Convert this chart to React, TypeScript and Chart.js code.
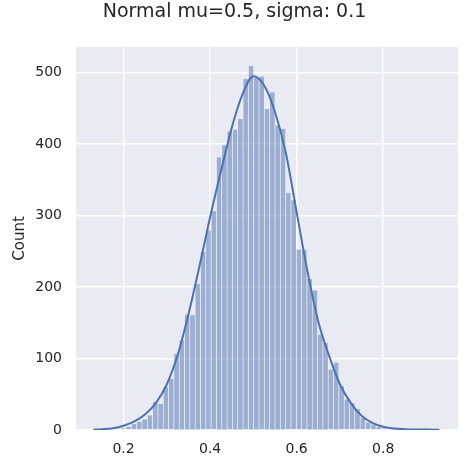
import { FC, ReactElement, useEffect, useRef } from 'react';
import { Chart, registerables } from 'chart.js';

Chart.register(...registerables);

// histogram bins (left edge of first bin + width, in data units)
const binStart = 0.1318;
const binWidth = 0.0123;
const binCounts = [
  1, 1, 1, 2, 2, 3, 5, 9, 12, 15,
  21, 40, 37, 61, 72, 107, 126, 162, 161, 205,
  250, 280, 307, 382, 399, 418, 421, 436, 492, 510,
  493, 495, 450, 473, 427, 422, 332, 322, 253, 253,
  212, 196, 134, 122, 85, 95, 62, 43, 38, 30,
  17, 11, 8, 5, 3, 2, 1, 1, 1, 0,
  1, 0, 0, 0, 1
];

// kde curve
const kdeX = [
  0.13, 0.15, 0.175, 0.2, 0.225, 0.25, 0.275, 0.3, 0.325, 0.35,
  0.375, 0.4, 0.425, 0.45, 0.475, 0.5, 0.525, 0.55, 0.575, 0.6,
  0.625, 0.65, 0.675, 0.7, 0.725, 0.75, 0.775, 0.8, 0.825, 0.85,
  0.875, 0.9, 0.93
];
const kdeY = [
  0.5, 1.2, 2.5, 6, 12, 22, 38, 64, 105, 162,
  228, 298, 362, 423, 470, 495, 482, 445, 388, 305,
  222, 152, 104, 64, 38, 20, 10, 4.5, 2, 1.2,
  0.8, 0.6, 0.4
];

const xTicks = [0.2, 0.4, 0.6, 0.8];
const yTicks = [0, 100, 200, 300, 400, 500];

const FONT = "'DejaVu Sans', sans-serif";
const TEXT = '#262626';
const BLUE = '#4C72B0';

const plotBackground = {
  id: 'plotBackground',
  beforeDraw: (chart: any) => {
    const { ctx, chartArea } = chart;
    ctx.save();
    ctx.fillStyle = '#EAEAF2';
    ctx.fillRect(chartArea.left, chartArea.top, chartArea.right - chartArea.left, chartArea.bottom - chartArea.top);
    ctx.restore();
  }
};

const HistChart: FC = (): ReactElement => {
  const chartRef = useRef<HTMLCanvasElement | null>(null);
  const chartInstance = useRef<Chart | null>(null);

  useEffect(() => {
    if (!chartRef.current) return;
    const ctx = chartRef.current.getContext('2d') as CanvasRenderingContext2D;

    if (chartInstance.current) {
      chartInstance.current.destroy();
    }

    const bars = binCounts.map((c, i) => ({ x: binStart + (i + 0.5) * binWidth, y: c }));
    const kde = kdeX.map((x, i) => ({ x, y: kdeY[i] }));

    chartInstance.current = new Chart(ctx, {
      type: 'bar',
      data: {
        datasets: [
          {
            type: 'line',
            data: kde,
            borderColor: BLUE,
            borderWidth: 2,
            pointRadius: 0,
            fill: false,
            cubicInterpolationMode: 'monotone',
            order: 0
          } as any,
          {
            type: 'bar',
            data: bars,
            backgroundColor: 'rgba(76, 114, 176, 0.5)',
            borderColor: 'rgba(255, 255, 255, 0.6)',
            borderWidth: { left: 0.6, right: 0.6, top: 0.6, bottom: 0 },
            borderSkipped: false,
            barPercentage: 1,
            categoryPercentage: 1,
            order: 1
          } as any
        ]
      },
      plugins: [plotBackground],
      options: {
        responsive: false,
        animation: false,
        layout: { padding: { left: 11, right: 16, top: 0, bottom: 0 } },
        plugins: {
          legend: { display: false },
          tooltip: { enabled: false },
          title: {
            display: true,
            text: 'Normal mu=0.5, sigma: 0.1',
            color: TEXT,
            font: { family: FONT, size: 19, weight: 'normal' },
            padding: { top: 1, bottom: 23.2 }
          }
        },
        scales: {
          x: {
            type: 'linear',
            min: 0.09,
            max: 0.973,
            offset: false,
            afterBuildTicks: (scale: any) => {
              scale.ticks = xTicks.map((v) => ({ value: v }));
            },
            afterFit: (scale: any) => {
              scale.height = 29;
            },
            ticks: {
              color: TEXT,
              font: { family: FONT, size: 14 },
              padding: 11,
              maxRotation: 0,
              callback: (v: any) => Number(v).toFixed(1)
            },
            grid: { color: '#FFFFFF', lineWidth: 1.4, drawTicks: false, offset: false },
            border: { display: false }
          },
          y: {
            min: 0,
            max: 536,
            afterBuildTicks: (scale: any) => {
              scale.ticks = yTicks.map((v) => ({ value: v }));
            },
            afterFit: (scale: any) => {
              scale.width = 65;
            },
            ticks: {
              color: TEXT,
              font: { family: FONT, size: 14 },
              padding: 14
            },
            title: {
              display: true,
              text: 'Count',
              color: TEXT,
              font: { family: FONT, size: 15 },
              padding: { top: 0, bottom: 0 }
            },
            grid: { color: '#FFFFFF', lineWidth: 1.4, drawTicks: false },
            border: { display: false }
          }
        }
      }
    }) as Chart;

    return () => {
      if (chartInstance.current) {
        chartInstance.current.destroy();
        chartInstance.current = null;
      }
    };
  }, []);

  return (
    <div style={{ position: 'absolute', top: 0, left: 0, width: 474, height: 459, background: '#FFFFFF' }}>
      <canvas ref={chartRef} width={474} height={459} />
    </div>
  );
};

export default function App(): ReactElement {
  return <HistChart />;
}
